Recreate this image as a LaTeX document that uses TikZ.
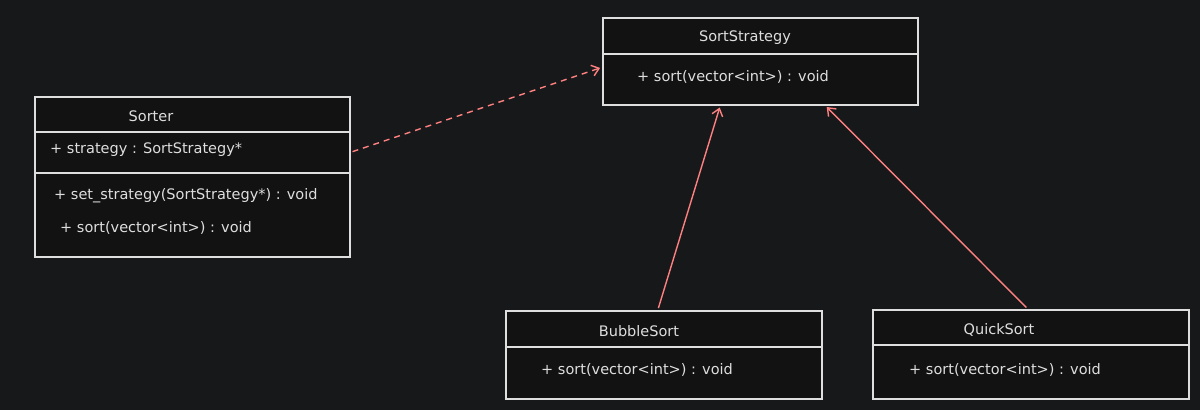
\documentclass[tikz,border=0pt]{standalone}
\usepackage{fontspec}
\setmainfont{DejaVu Sans}
\usetikzlibrary{arrows.meta,positioning}
\definecolor{bgdark}{RGB}{23,24,26}
\definecolor{boxfill}{RGB}{18,18,19}
\definecolor{inkline}{RGB}{222,222,222}
\definecolor{inkred}{RGB}{255,128,128}

\begin{document}
\begin{tikzpicture}
  [x=1pt,y=-1pt,>={Straight Barb[length=7pt,width=11pt]},
   every node/.style={font=\fontsize{14.5}{17}\selectfont,text=inkline}]
  \tikzstyle{part}=[rectangle,draw=inkline,line width=1.6pt,fill=boxfill,
    anchor=north west,minimum width=315pt,inner sep=0pt]
  \tikzstyle{member}=[anchor=west,inner sep=0pt]
  \tikzstyle{link}=[->,draw=inkred,line width=1.4pt,shorten >=2pt,shorten <=2pt]

  \fill[bgdark] (0,0) rectangle (1200,410);

  % Sorter
  \node[part,minimum height=35pt] (sorterT) at (34,96) {};
  \node[part,minimum height=41pt] (sorterA) at (34,131) {};
  \node[part,minimum height=84pt] (sorterM) at (34,172) {};
  \node (sorterN) at (151,116) {Sorter};
  \node[member] (sorterA1) at (50,150) {+ strategy : SortStrategy*};
  \node[member] (sorterM1) at (54,196) {+ set\_strategy(SortStrategy*) : void};
  \node[member] (sorterM2) at (60,228) {+ sort(vector<int>) : void};

  % SortStrategy
  \node[part,minimum height=36pt] (stratT) at (602,17) {};
  \node[part,minimum height=51pt] (stratM) at (602,53) {};
  \node (stratN) at (745,38) {SortStrategy};
  \node[member] (stratM1) at (637,77) {+ sort(vector<int>) : void};

  % BubbleSort
  \node[part,minimum height=36pt,minimum width=316pt] (bubT) at (505,310) {};
  \node[part,minimum height=52pt,minimum width=316pt] (bubM) at (505,346) {};
  \node (bubN) at (639,331) {BubbleSort};
  \node[member] (bubM1) at (541,370) {+ sort(vector<int>) : void};

  % QuickSort
  \node[part,minimum height=35pt,minimum width=316pt] (quickT) at (872,309) {};
  \node[part,minimum height=54pt,minimum width=316pt] (quickM) at (872,344) {};
  \node (quickN) at (999,330) {QuickSort};
  \node[member] (quickM1) at (909,370) {+ sort(vector<int>) : void};

  \draw[link,dashed,dash pattern=on 6pt off 5pt] (sorterA.east) -- ([yshift=12pt]stratM.west);
  \draw[link] ([xshift=-6pt]bubT.north) -- ([xshift=-40pt]stratM.south);
  \draw[link] ([xshift=-3pt]quickT.north) -- ([xshift=65pt]stratM.south);

\end{tikzpicture}
\end{document}
